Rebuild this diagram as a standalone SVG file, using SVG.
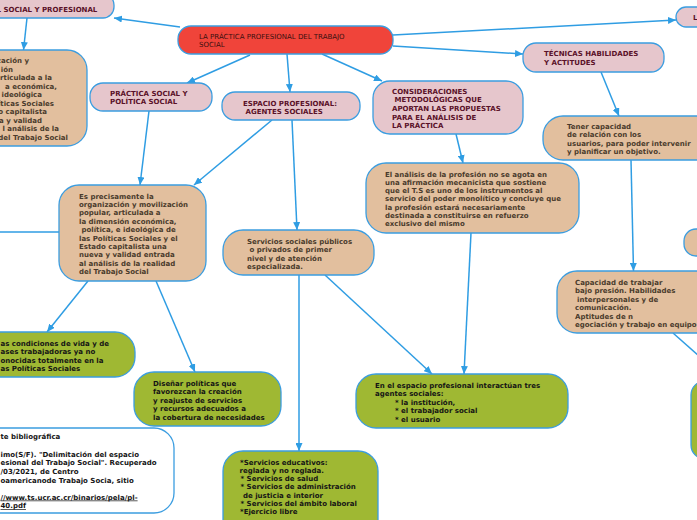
<svg xmlns="http://www.w3.org/2000/svg" width="697" height="520" viewBox="0 0 697 520">
<defs>
<marker id="ah" markerUnits="userSpaceOnUse" markerWidth="8" markerHeight="7" refX="8" refY="3.5" orient="auto">
<path d="M0,0 L8,3.5 L0,7 z" fill="#2f9de3"/>
</marker>
<style>
.n{stroke:#3b9de0;stroke-width:1.3}
.pink{fill:#e6c6cc}
.tan{fill:#e2bf9e}
.green{fill:#9fb833}
.red{fill:#f0443a}
.white{fill:#ffffff}
text{font-family:"DejaVu Sans",Verdana,sans-serif;font-size:7px;font-weight:bold}
.tp{fill:#5a1128}
.tt{fill:#4a3b2c}
.tg{fill:#151515}
.tr{fill:#3a1010;font-weight:normal}
.c path{fill:none;stroke:#2f9de3;stroke-width:1.5}
</style>
</defs>
<rect width="697" height="520" fill="#ffffff"/>
<g class="c" id="connectors">
<path d="M180,27 L114,18" marker-end="url(#ah)"/>
<path d="M27,18 L23.5,50" marker-end="url(#ah)"/>
<path d="M250,55 L187,83" marker-end="url(#ah)"/>
<path d="M287,54 L290,92" marker-end="url(#ah)"/>
<path d="M322,54 L382,81" marker-end="url(#ah)"/>
<path d="M393,35 L676,20" marker-end="url(#ah)"/>
<path d="M393,46 L523,54" marker-end="url(#ah)"/>
<path d="M601,72 L619,116" marker-end="url(#ah)"/>
<path d="M631,160 L633.5,271" marker-end="url(#ah)"/>
<path d="M673,333 L700,357"/>
<path d="M149,111 L140,185" marker-end="url(#ah)"/>
<path d="M272,120 L194,185" marker-end="url(#ah)"/>
<path d="M292,120 L297,230" marker-end="url(#ah)"/>
<path d="M456,134 L463,163" marker-end="url(#ah)"/>
<path d="M471,233 L464,374" marker-end="url(#ah)"/>
<path d="M325,275 L432,374" marker-end="url(#ah)"/>
<path d="M299,275 L299,451" marker-end="url(#ah)"/>
<path d="M88,281 L47,332" marker-end="url(#ah)"/>
<path d="M156,281 L195,372" marker-end="url(#ah)"/>
<path d="M0,232 L59,232"/>
</g>
<g id="root">
<rect class="n red" x="178" y="26" width="215" height="28" rx="13"/>
<text class="tr" x="199" y="38.5">LA PRÁCTICA PROFESIONAL DEL TRABAJO</text>
<text class="tr" x="199" y="46.5">SOCIAL</text>
</g>
<g id="social-profesional">
<rect class="n pink" x="-20" y="-6" width="134" height="24" rx="11"/>
<text class="tp" x="-3.5" y="12">L SOCIAL Y PROFESIONAL</text>
</g>
<g id="tan-left-top">
<rect class="n tan" x="-30" y="50" width="117" height="96" rx="20"/>
<g class="tt" text-anchor="end">
<text class="tt" x="29" y="63">zación y</text>
<text class="tt" x="13" y="71.5">ión</text>
<text class="tt" x="52" y="80">rticulada a la</text>
<text class="tt" x="57" y="88.5">a económica,</text>
<text class="tt" x="42" y="97"> ideológica</text>
<text class="tt" x="54" y="105.5">íticas Sociales</text>
<text class="tt" x="47" y="114">o capitalista</text>
<text class="tt" x="42" y="122.5">a y validad</text>
<text class="tt" x="59" y="131">l análisis de la</text>
<text class="tt" x="68" y="139.5">del Trabajo Social</text>
</g>
</g>
<g id="practica-social">
<rect class="n pink" x="90" y="83" width="122" height="28" rx="13"/>
<text class="tp" x="110" y="95.5">PRÁCTICA SOCIAL Y</text>
<text class="tp" x="110" y="104">POLÍTICA SOCIAL</text>
</g>
<g id="espacio-profesional">
<rect class="n pink" x="222" y="92" width="138" height="28" rx="13"/>
<text class="tp" x="243" y="105.5">ESPACIO PROFESIONAL:</text>
<text class="tp" x="245.5" y="113.5">AGENTES SOCIALES</text>
</g>
<g id="consideraciones">
<rect class="n pink" x="373" y="81" width="150" height="53" rx="17"/>
<text class="tp" x="392" y="93.5">CONSIDERACIONES</text>
<text class="tp" x="394.5" y="102.3">METODOLÓGICAS QUE</text>
<text class="tp" x="392" y="111">APORTAN LAS PROPUESTAS</text>
<text class="tp" x="392" y="119.7">PARA EL ANÁLISIS DE</text>
<text class="tp" x="392" y="128.4">LA PRÁCTICA</text>
</g>
<g id="tecnicas">
<rect class="n pink" x="523" y="43" width="141" height="29" rx="13"/>
<text class="tp" x="544" y="55.5">TÉCNICAS HABILIDADES</text>
<text class="tp" x="544" y="64.5">Y ACTITUDES</text>
</g>
<g id="top-right">
<rect class="n pink" x="676" y="7" width="60" height="20" rx="10"/>
<text class="tp" x="693" y="19.5">L</text>
</g>
<g id="tener-capacidad">
<rect class="n tan" x="543" y="116" width="180" height="44" rx="20"/>
<text class="tt" x="567" y="128.5">Tener capacidad</text>
<text class="tt" x="567" y="137">de relación con los</text>
<text class="tt" x="567" y="145.5">usuarios, para poder intervenir</text>
<text class="tt" x="567" y="154">y planificar un objetivo.</text>
</g>
<g id="right-tan">
<rect class="n tan" x="684" y="229" width="40" height="27" rx="12"/>
</g>
<g id="capacidad-trabajar">
<rect class="n tan" x="557" y="271" width="170" height="62" rx="20"/>
<text class="tt" x="575" y="284.5">Capacidad de trabajar</text>
<text class="tt" x="575" y="293">bajo presión. Habilidades</text>
<text class="tt" x="577" y="301.5">interpersonales y de</text>
<text class="tt" x="575" y="310">comunicación.</text>
<text class="tt" x="575" y="318.5">Aptitudes de n</text>
<text class="tt" x="575" y="327">egociación y trabajo en equipo</text>
</g>
<g id="right-green">
<rect class="n green" x="691" y="381" width="40" height="78" rx="14"/>
</g>
<g id="es-precisamente">
<rect class="n tan" x="59" y="185" width="147" height="96" rx="20"/>
<text class="tt" x="79" y="198.5">Es precisamente la</text>
<text class="tt" x="79" y="206.9">organización y movilización</text>
<text class="tt" x="79" y="215.3">popular, articulada a</text>
<text class="tt" x="79" y="223.7">la dimensión económica,</text>
<text class="tt" x="81.5" y="232.1">política, e ideológica de</text>
<text class="tt" x="79" y="240.5">las Políticas Sociales y el</text>
<text class="tt" x="79" y="248.9">Estado capitalista una</text>
<text class="tt" x="79" y="257.3">nueva y validad entrada</text>
<text class="tt" x="79" y="265.7">al análisis de la realidad</text>
<text class="tt" x="79" y="274.1">del Trabajo Social</text>
</g>
<g id="servicios-sociales">
<rect class="n tan" x="223" y="230" width="151" height="45" rx="20"/>
<text class="tt" x="247" y="243.5">Servicios sociales públicos</text>
<text class="tt" x="249.5" y="252">o privados de primer</text>
<text class="tt" x="247" y="260.5">nivel y de atención</text>
<text class="tt" x="247" y="269">especializada.</text>
</g>
<g id="analisis-profesion">
<rect class="n tan" x="366" y="163" width="213" height="70" rx="20"/>
<text class="tt" x="385" y="176.5">El análisis de la profesión no se agota en</text>
<text class="tt" x="385" y="184.8">una afirmación mecanicista que sostiene</text>
<text class="tt" x="385" y="193.1">que el T.S es uno de los instrumentos al</text>
<text class="tt" x="385" y="201.4">servicio del poder monolítico y concluye que</text>
<text class="tt" x="385" y="209.7">la profesión estará necesariamente</text>
<text class="tt" x="385" y="218">destinada a constituirse en refuerzo</text>
<text class="tt" x="385" y="226.3">exclusivo del mismo</text>
</g>
<g id="condiciones-vida">
<rect class="n green" x="-30" y="332" width="165" height="45" rx="20"/>
<text class="tg" x="0.5" y="345.5">as condiciones de vida y de</text>
<text class="tg" x="0.5" y="354">ases trabajadoras ya no</text>
<text class="tg" x="0.5" y="362.5">onocidas totalmente en la</text>
<text class="tg" x="0.5" y="371">as Políticas Sociales</text>
</g>
<g id="disenar-politicas">
<rect class="n green" x="134" y="372" width="147" height="54" rx="20"/>
<text class="tg" x="153" y="385.5">Diseñar políticas que</text>
<text class="tg" x="153" y="394">favorezcan la creación</text>
<text class="tg" x="153" y="402.5">y reajuste de servicios</text>
<text class="tg" x="153" y="411">y recursos adecuados a</text>
<text class="tg" x="153" y="419.5">la cobertura de necesidades</text>
</g>
<g id="bibliografia">
<rect class="n white" x="-30" y="428" width="204" height="85" rx="20"/>
<text class="tg" x="0.5" y="438.5">te bibliográfica</text>
<text class="tg" x="0.5" y="456.5">imo(S/F). "Delimitación del espacio</text>
<text class="tg" x="0.5" y="465.2">esional del Trabajo Social". Recuperado</text>
<text class="tg" x="0.5" y="473.9">/03/2021, de Centro</text>
<text class="tg" x="0.5" y="482.6">oamericanode Trabajo Socia, sitio</text>
<text class="tg" x="0.5" y="499.5" text-decoration="underline">//www.ts.ucr.ac.cr/binarios/pela/pl-</text>
<text class="tg" x="0.5" y="508" text-decoration="underline">40.pdf</text>
</g>
<g id="servicios-educativos">
<rect class="n green" x="223" y="451" width="155" height="90" rx="20"/>
<text class="tg" x="240" y="464.5">*Servicios educativos:</text>
<text class="tg" x="239.5" y="472.8">reglada y no reglada.</text>
<text class="tg" x="240.5" y="481.1">* Servicios de salud</text>
<text class="tg" x="240.5" y="489.4">* Servicios de administración</text>
<text class="tg" x="243" y="497.7">de justicia e interior</text>
<text class="tg" x="240.5" y="506">* Servicios del ámbito laboral</text>
<text class="tg" x="240" y="514.3">*Ejercicio libre</text>
</g>
<g id="agentes-sociales">
<rect class="n green" x="356" y="374" width="212" height="54" rx="20"/>
<text class="tg" x="375" y="387.5">En el espacio profesional interactúan tres</text>
<text class="tg" x="375" y="396">agentes sociales:</text>
<text class="tg" x="395" y="404.5">* la institución,</text>
<text class="tg" x="395" y="413">* el trabajador social</text>
<text class="tg" x="395" y="421.5">* el usuario</text>
</g>
</svg>
